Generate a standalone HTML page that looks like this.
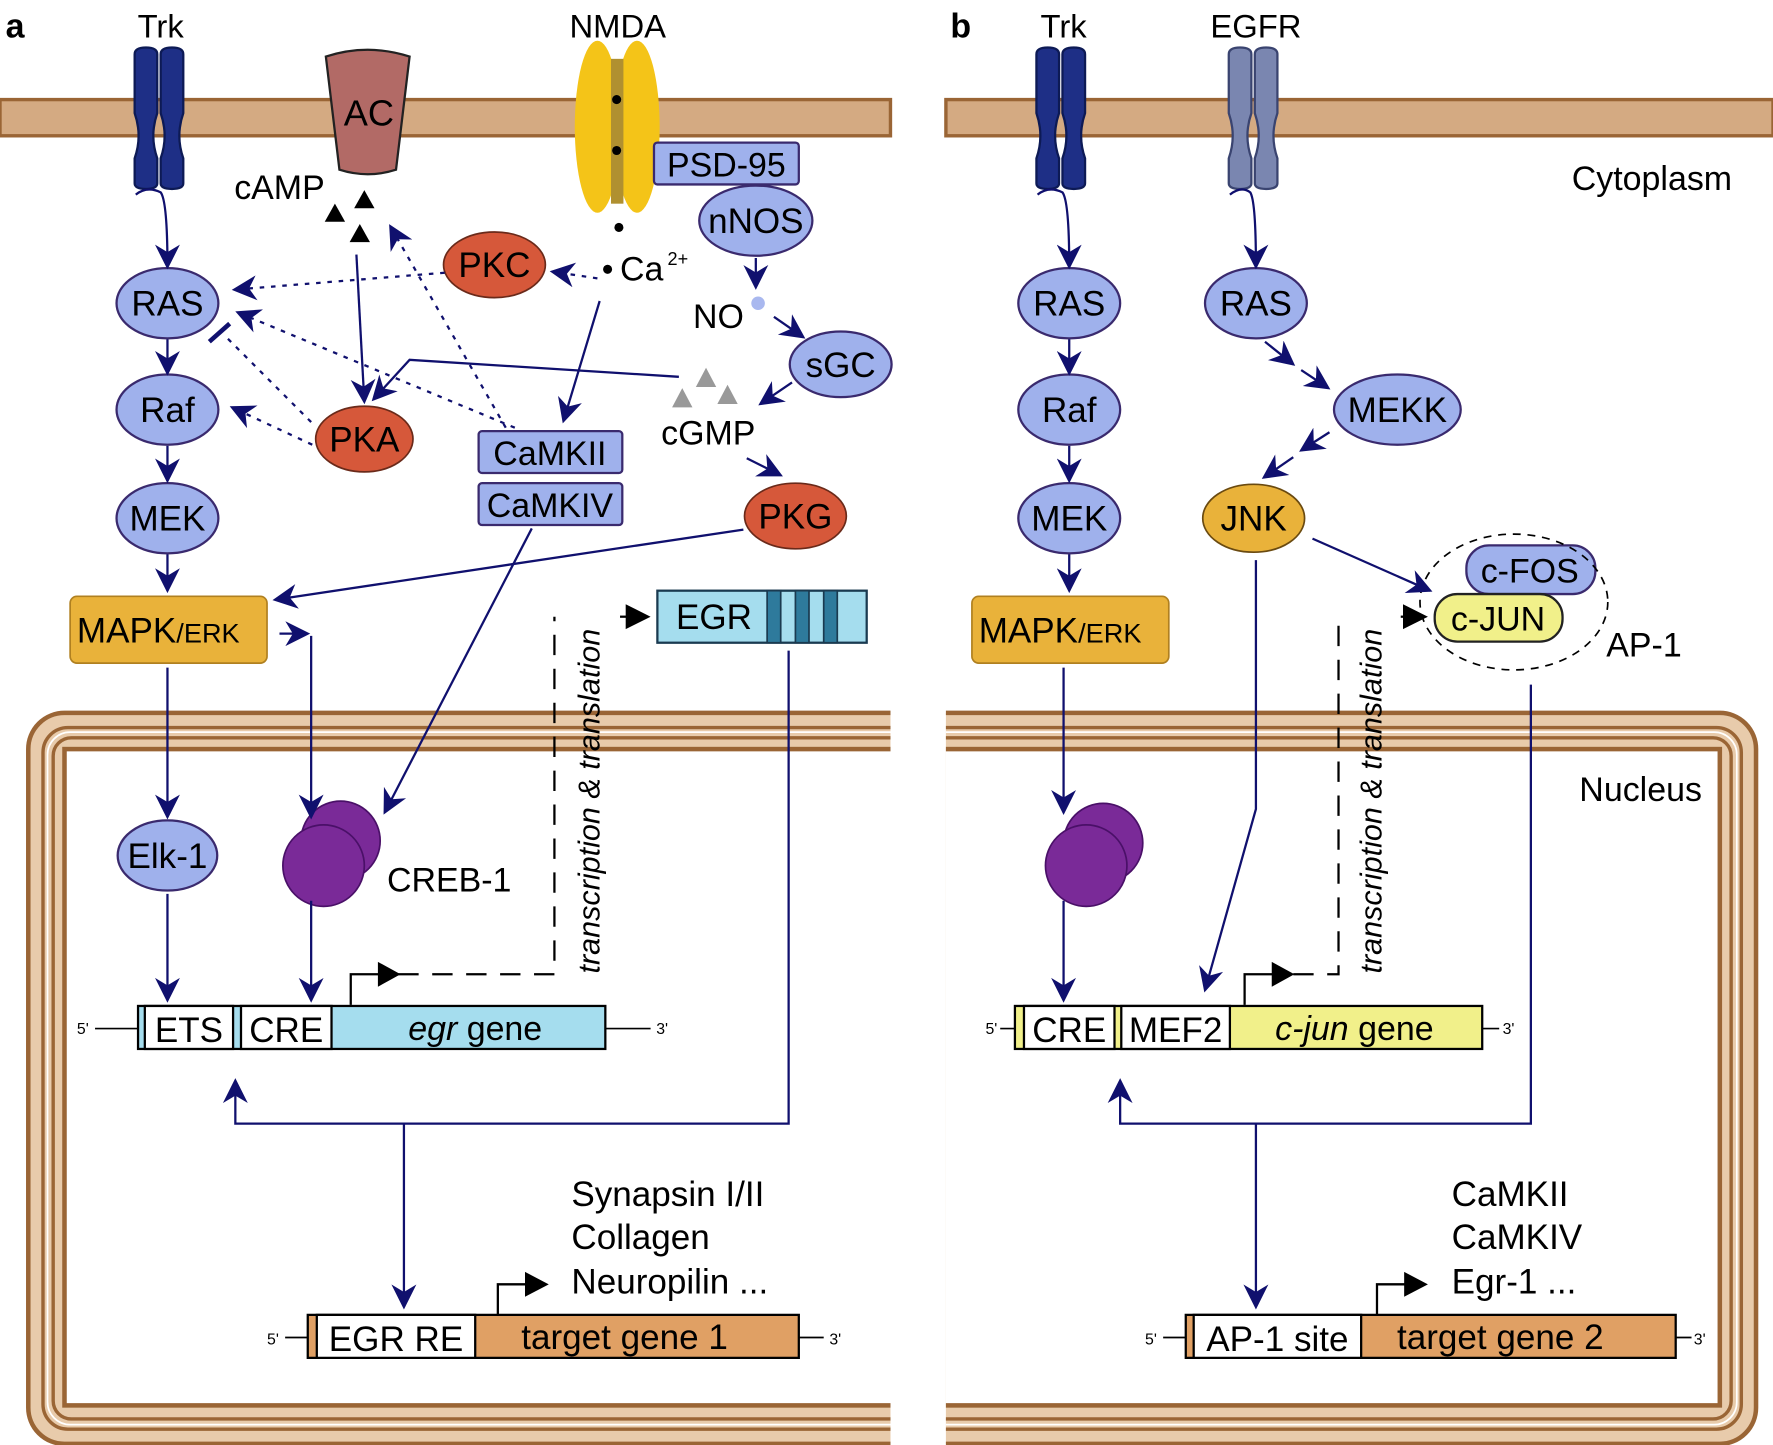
<!DOCTYPE html>
<html><head><meta charset="utf-8"><style>html,body{margin:0;padding:0;background:#fff}svg{display:block}text{font-family:"Liberation Sans",sans-serif}</style></head><body>
<svg width="1773" height="1445" viewBox="0 0 1567 1277" preserveAspectRatio="none" xmlns="http://www.w3.org/2000/svg">
<defs>
<marker id="ab" viewBox="0 0 10 10" refX="9" refY="5" markerWidth="26" markerHeight="22" markerUnits="userSpaceOnUse" orient="auto"><path d="M0,0L10,5L0,10L3,5z" fill="#10106e"/></marker>
<clipPath id="ca"><rect x="0" y="0" width="787" height="1277"/></clipPath>
<clipPath id="cb"><rect x="836" y="0" width="731" height="1277"/></clipPath>
</defs>
<rect x="0" y="88" width="787" height="32" fill="#d4aa82" stroke="#9a6535" stroke-width="3"/>
<rect x="836" y="88" width="731" height="32" fill="#d4aa82" stroke="#9a6535" stroke-width="3"/>
<g clip-path="url(#ca)">
<rect x="25" y="630" width="900" height="646" rx="32" fill="#e8cbab" stroke="#9a6535" stroke-width="4"/>
<rect x="38" y="643" width="880" height="620" rx="22" fill="none" stroke="#9a6535" stroke-width="3"/>
<rect x="42" y="647" width="870" height="612" rx="20" fill="none" stroke="#fff" stroke-width="1.5"/>
<rect x="47" y="652" width="860" height="602" rx="16" fill="none" stroke="#9a6535" stroke-width="3"/>
<rect x="57" y="662" width="850" height="580" fill="#fff" stroke="#9a6535" stroke-width="4"/>
</g>
<g clip-path="url(#cb)">
<rect x="700" y="630" width="852" height="646" rx="32" fill="#e8cbab" stroke="#9a6535" stroke-width="4"/>
<rect x="710" y="643" width="829" height="620" rx="22" fill="none" stroke="#9a6535" stroke-width="3"/>
<rect x="715" y="647" width="820" height="612" rx="20" fill="none" stroke="#fff" stroke-width="1.5"/>
<rect x="720" y="652" width="810" height="602" rx="16" fill="none" stroke="#9a6535" stroke-width="3"/>
<rect x="700" y="662" width="820" height="580" fill="#fff" stroke="#9a6535" stroke-width="4"/>
</g>
<text x="1460" y="168" font-size="30" text-anchor="middle">Cytoplasm</text>
<text x="1450" y="708" font-size="30" text-anchor="middle">Nucleus</text>

<text x="5" y="33" font-size="30" font-weight="bold">a</text>
<text x="142" y="33" font-size="29" text-anchor="middle">Trk</text>
<g fill="#1e2f86" stroke="#0d1a55" stroke-width="2">
<path d="M119,48 Q119,42 129,42 Q139,42 139,48 L139,100 Q132,120 139,140 L139,162 Q139,167 129,167 Q119,167 119,162 L119,140 Q126,120 119,100Z"/>
<path d="M142,48 Q142,42 152,42 Q162,42 162,48 L162,100 Q155,120 162,140 L162,162 Q162,167 152,167 Q142,167 142,162 L142,140 Q149,120 142,100Z"/>
</g>
<path d="M288,50 Q325,38 362,50 L350,150 Q325,158 300,150Z" fill="#b26a66" stroke="#222" stroke-width="2"/>
<text x="326" y="111" font-size="32" text-anchor="middle">AC</text>
<text x="546" y="33" font-size="29" text-anchor="middle">NMDA</text>
<ellipse cx="528" cy="112" rx="20" ry="76" fill="#f4c418"/>
<ellipse cx="563" cy="112" rx="20" ry="76" fill="#f4c418"/>
<rect x="540" y="52" width="11" height="128" fill="#b09030"/>
<circle cx="545" cy="88" r="4"/><circle cx="545" cy="133" r="4"/><circle cx="547" cy="201" r="4"/><circle cx="537" cy="238" r="4"/>
<rect x="578" y="126" width="128" height="37" rx="3" fill="#9fb1ec" stroke="#3a2a6e" stroke-width="2"/>
<text x="642" y="156" font-size="30" text-anchor="middle">PSD-95</text>
<g fill="#9fb1ec" stroke="#3a2a6e" stroke-width="2">
<ellipse cx="668" cy="195" rx="50" ry="31"/>
<ellipse cx="743" cy="322" rx="45" ry="29"/>
<ellipse cx="148" cy="268" rx="45" ry="31"/>
<ellipse cx="148" cy="362" rx="45" ry="31"/>
<ellipse cx="148" cy="458" rx="45" ry="31"/>
<ellipse cx="148" cy="756" rx="44" ry="31"/>
<rect x="423" y="381" width="127" height="37" rx="3"/>
<rect x="423" y="427" width="127" height="37" rx="3"/>
</g>
<text x="668" y="206" font-size="31" text-anchor="middle">nNOS</text>
<text x="743" y="333" font-size="31" text-anchor="middle">sGC</text>
<text x="148" y="279" font-size="31" text-anchor="middle">RAS</text>
<text x="148" y="373" font-size="31" text-anchor="middle">Raf</text>
<text x="148" y="469" font-size="31" text-anchor="middle">MEK</text>
<text x="148" y="767" font-size="31" text-anchor="middle">Elk-1</text>
<text x="486" y="411" font-size="30" text-anchor="middle">CaMKII</text>
<text x="486" y="457" font-size="30" text-anchor="middle">CaMKIV</text>
<text x="635" y="290" font-size="30" text-anchor="middle">NO</text>
<circle cx="670" cy="268" r="6" fill="#a9b8ef"/>
<g fill="#999"><path d="M594,360L603,343L612,360Z"/><path d="M615,342L624,325L633,342Z"/><path d="M634,357L643,340L652,357Z"/></g>
<text x="626" y="393" font-size="30" text-anchor="middle">cGMP</text>
<g fill="#d6583a" stroke="#6a2a1a" stroke-width="1.5">
<ellipse cx="703" cy="456" rx="45" ry="29"/>
<ellipse cx="437" cy="234" rx="45" ry="29"/>
<ellipse cx="322" cy="388" rx="43" ry="29"/>
</g>
<text x="703" y="467" font-size="31" text-anchor="middle">PKG</text>
<text x="437" y="245" font-size="31" text-anchor="middle">PKC</text>
<text x="322" y="399" font-size="31" text-anchor="middle">PKA</text>
<text x="548" y="248" font-size="30">Ca</text><text x="590" y="234" font-size="16">2+</text>
<text x="247" y="176" font-size="30" text-anchor="middle">cAMP</text>
<g fill="#000"><path d="M287,196L296,180L305,196Z"/><path d="M313,184L322,168L331,184Z"/><path d="M309,214L318,198L327,214Z"/></g>
<rect x="62" y="527" width="174" height="59" rx="6" fill="#e9b23a" stroke="#b08020" stroke-width="1.5"/>
<text x="68" y="568" font-size="31">MAPK<tspan font-size="24">/ERK</tspan></text>
<rect x="581" y="522" width="185" height="46" fill="#a5ddee" stroke="#1a3a50" stroke-width="2"/>
<g fill="#2e7a9c" stroke="#1a3a50" stroke-width="1.5"><rect x="678" y="522" width="12" height="46"/><rect x="703" y="522" width="12" height="46"/><rect x="728" y="522" width="12" height="46"/></g>
<text x="631" y="556" font-size="31" text-anchor="middle">EGR</text>
<text transform="translate(530,708) rotate(-90)" font-size="27" font-style="italic" text-anchor="middle">transcription &amp; translation</text>
<path d="M352,861H490V545" fill="none" stroke="#000" stroke-width="2" stroke-dasharray="18,12"/>
<path d="M548,545H560" stroke="#000" stroke-width="2"/><path d="M553,534L575,545L553,556Z"/>
<path d="M310,888V861H340" fill="none" stroke="#000" stroke-width="2"/><path d="M334,850L354,861L334,872Z"/>
<text x="68" y="914" font-size="14">5'</text>
<path d="M84,909H122M535,909H575" stroke="#000" stroke-width="1.5"/>
<text x="580" y="914" font-size="14">3'</text>
<rect x="122" y="889" width="413" height="38" fill="#a5ddee" stroke="#000" stroke-width="2"/>
<rect x="128" y="889" width="78" height="38" fill="#fff" stroke="#000" stroke-width="2"/>
<rect x="213" y="889" width="80" height="38" fill="#fff" stroke="#000" stroke-width="2"/>
<text x="167" y="921" font-size="31" text-anchor="middle">ETS</text>
<text x="253" y="921" font-size="31" text-anchor="middle">CRE</text>
<text x="420" y="919" font-size="30" text-anchor="middle"><tspan font-style="italic">egr</tspan> gene</text>
<g fill="#7a2a98" stroke="#4a1068" stroke-width="1.5"><circle cx="301" cy="743" r="35"/><circle cx="286" cy="765" r="36"/></g>
<text x="397" y="788" font-size="30" text-anchor="middle">CREB-1</text>
<g stroke="#10106e" stroke-width="2" fill="none">
<path d="M120,172 Q130,164 142,170 Q148,178 148,236" marker-end="url(#ab)"/>
<path d="M148,300V330" marker-end="url(#ab)"/>
<path d="M148,394V425" marker-end="url(#ab)"/>
<path d="M148,490V522" marker-end="url(#ab)"/>
<path d="M148,590V722" marker-end="url(#ab)"/>
<path d="M148,790V884" marker-end="url(#ab)"/>
<path d="M247,560H272" marker-end="url(#ab)"/>
<path d="M275,562V722" marker-end="url(#ab)"/>
<path d="M275,796V884" marker-end="url(#ab)"/>
<path d="M315,225L322,355" marker-end="url(#ab)"/>
<path d="M657,468L243,530" marker-end="url(#ab)"/>
<path d="M470,467L340,718" marker-end="url(#ab)"/>
<path d="M530,266L498,372" marker-end="url(#ab)"/>
<path d="M600,333L362,318L330,353" marker-end="url(#ab)"/>
<path d="M668,228V254" marker-end="url(#ab)"/>
<path d="M684,280L710,298" marker-end="url(#ab)"/>
<path d="M700,338L672,357" marker-end="url(#ab)"/>
<path d="M660,405L690,420" marker-end="url(#ab)"/>
<path d="M697,575V993H208V955" marker-end="url(#ab)"/>
<path d="M357,993V1155" marker-end="url(#ab)"/>
<g stroke-dasharray="4,6">
<path d="M393,241L207,256" marker-end="url(#ab)"/>
<path d="M275,373L200,298"/>
<path d="M276,393L205,360" marker-end="url(#ab)"/>
<path d="M455,378L210,276" marker-end="url(#ab)"/>
<path d="M447,378L345,200" marker-end="url(#ab)"/>
<path d="M528,246L488,240" marker-end="url(#ab)"/>
</g>
<path d="M185,302L203,286" stroke-width="4"/>
</g>
<text x="505" y="1066" font-size="31">Synapsin I/II</text>
<text x="505" y="1104" font-size="31">Collagen</text>
<text x="505" y="1143" font-size="31">Neuropilin ...</text>
<path d="M440,1162V1135H468" fill="none" stroke="#000" stroke-width="2"/><path d="M464,1124L485,1135L464,1146Z"/>
<text x="236" y="1188" font-size="14">5'</text>
<path d="M252,1182H272M706,1182H728" stroke="#000" stroke-width="1.5"/>
<text x="733" y="1188" font-size="14">3'</text>
<rect x="272" y="1162" width="434" height="38" fill="#e0a064" stroke="#000" stroke-width="2"/>
<rect x="280" y="1162" width="140" height="38" fill="#fff" stroke="#000" stroke-width="2"/>
<text x="350" y="1194" font-size="31" text-anchor="middle">EGR RE</text>
<text x="552" y="1192" font-size="31" text-anchor="middle">target gene 1</text>

<text x="840" y="33" font-size="30" font-weight="bold">b</text>
<text x="940" y="33" font-size="29" text-anchor="middle">Trk</text>
<g fill="#1e2f86" stroke="#0d1a55" stroke-width="2">
<path d="M916,48 Q916,42 926,42 Q936,42 936,48 L936,100 Q929,120 936,140 L936,162 Q936,167 926,167 Q916,167 916,162 L916,140 Q923,120 916,100Z"/>
<path d="M939,48 Q939,42 949,42 Q959,42 959,48 L959,100 Q952,120 959,140 L959,162 Q959,167 949,167 Q939,167 939,162 L939,140 Q946,120 939,100Z"/>
</g>
<text x="1110" y="33" font-size="29" text-anchor="middle">EGFR</text>
<g fill="#7a86b0" stroke="#3a4470" stroke-width="2">
<path d="M1086,48 Q1086,42 1096,42 Q1106,42 1106,48 L1106,100 Q1099,120 1106,140 L1106,162 Q1106,167 1096,167 Q1086,167 1086,162 L1086,140 Q1093,120 1086,100Z"/>
<path d="M1109,48 Q1109,42 1119,42 Q1129,42 1129,48 L1129,100 Q1122,120 1129,140 L1129,162 Q1129,167 1119,167 Q1109,167 1109,162 L1109,140 Q1116,120 1109,100Z"/>
</g>
<g fill="#9fb1ec" stroke="#3a2a6e" stroke-width="2">
<ellipse cx="945" cy="268" rx="45" ry="31"/>
<ellipse cx="945" cy="362" rx="45" ry="31"/>
<ellipse cx="945" cy="458" rx="45" ry="31"/>
<ellipse cx="1110" cy="268" rx="45" ry="31"/>
<ellipse cx="1235" cy="362" rx="56" ry="31"/>
<rect x="1296" y="482" width="114" height="43" rx="20"/>
</g>
<text x="945" y="279" font-size="31" text-anchor="middle">RAS</text>
<text x="945" y="373" font-size="31" text-anchor="middle">Raf</text>
<text x="945" y="469" font-size="31" text-anchor="middle">MEK</text>
<text x="1110" y="279" font-size="31" text-anchor="middle">RAS</text>
<text x="1235" y="373" font-size="31" text-anchor="middle">MEKK</text>
<text x="1352" y="515" font-size="30" text-anchor="middle">c-FOS</text>
<rect x="1268" y="525" width="113" height="42" rx="20" fill="#f1f08a" stroke="#222" stroke-width="2"/>
<text x="1324" y="557" font-size="30" text-anchor="middle">c-JUN</text>
<ellipse cx="1338" cy="532" rx="83" ry="60" fill="none" stroke="#000" stroke-width="1.5" stroke-dasharray="7,6"/>
<text x="1453" y="580" font-size="30" text-anchor="middle">AP-1</text>
<ellipse cx="1108" cy="458" rx="45" ry="30" fill="#e9b23a" stroke="#6a4a10" stroke-width="1.5"/>
<text x="1108" y="469" font-size="31" text-anchor="middle">JNK</text>
<rect x="859" y="527" width="174" height="59" rx="6" fill="#e9b23a" stroke="#b08020" stroke-width="1.5"/>
<text x="865" y="568" font-size="31">MAPK<tspan font-size="24">/ERK</tspan></text>
<g fill="#7a2a98" stroke="#4a1068" stroke-width="1.5"><circle cx="975" cy="745" r="35"/><circle cx="960" cy="765" r="36"/></g>
<text transform="translate(1221,708) rotate(-90)" font-size="27" font-style="italic" text-anchor="middle">transcription &amp; translation</text>
<path d="M1143,861H1183V545" fill="none" stroke="#000" stroke-width="2" stroke-dasharray="18,12"/>
<path d="M1238,545H1248" stroke="#000" stroke-width="2"/><path d="M1240,534L1262,545L1240,556Z"/>
<path d="M1100,888V861H1130" fill="none" stroke="#000" stroke-width="2"/><path d="M1124,850L1144,861L1124,872Z"/>
<text x="871" y="914" font-size="14">5'</text>
<path d="M884,909H897M1310,909H1325" stroke="#000" stroke-width="1.5"/>
<text x="1328" y="914" font-size="14">3'</text>
<rect x="897" y="889" width="413" height="38" fill="#f1f08a" stroke="#000" stroke-width="2"/>
<rect x="905" y="889" width="80" height="38" fill="#fff" stroke="#000" stroke-width="2"/>
<rect x="991" y="889" width="96" height="38" fill="#fff" stroke="#000" stroke-width="2"/>
<text x="945" y="921" font-size="31" text-anchor="middle">CRE</text>
<text x="1039" y="921" font-size="31" text-anchor="middle">MEF2</text>
<text x="1197" y="919" font-size="30" text-anchor="middle"><tspan font-style="italic">c-jun</tspan> gene</text>
<g stroke="#10106e" stroke-width="2" fill="none">
<path d="M917,172 Q927,164 939,170 Q945,178 945,236" marker-end="url(#ab)"/>
<path d="M1087,172 Q1097,164 1105,170 Q1110,178 1110,236" marker-end="url(#ab)"/>
<path d="M945,300V330" marker-end="url(#ab)"/>
<path d="M945,394V425" marker-end="url(#ab)"/>
<path d="M945,490V522" marker-end="url(#ab)"/>
<path d="M940,590V718" marker-end="url(#ab)"/>
<path d="M940,796V884" marker-end="url(#ab)"/>
<path d="M1118,302L1143,322" marker-end="url(#ab)"/>
<path d="M1150,327L1174,343" marker-end="url(#ab)"/>
<path d="M1175,382L1150,398" marker-end="url(#ab)"/>
<path d="M1143,404L1117,422" marker-end="url(#ab)"/>
<path d="M1160,476L1264,522" marker-end="url(#ab)"/>
<path d="M1110,495V715L1065,875" marker-end="url(#ab)"/>
<path d="M1353,605V993H990V955" marker-end="url(#ab)"/>
<path d="M1110,993V1155" marker-end="url(#ab)"/>
</g>
<text x="1283" y="1066" font-size="31">CaMKII</text>
<text x="1283" y="1104" font-size="31">CaMKIV</text>
<text x="1283" y="1143" font-size="31">Egr-1 ...</text>
<path d="M1217,1162V1135H1245" fill="none" stroke="#000" stroke-width="2"/><path d="M1241,1124L1262,1135L1241,1146Z"/>
<text x="1012" y="1188" font-size="14">5'</text>
<path d="M1028,1182H1048M1481,1182H1495" stroke="#000" stroke-width="1.5"/>
<text x="1497" y="1188" font-size="14">3'</text>
<rect x="1048" y="1162" width="433" height="38" fill="#e0a064" stroke="#000" stroke-width="2"/>
<rect x="1055" y="1162" width="148" height="38" fill="#fff" stroke="#000" stroke-width="2"/>
<text x="1129" y="1194" font-size="31" text-anchor="middle">AP-1 site</text>
<text x="1326" y="1192" font-size="31" text-anchor="middle">target gene 2</text>
</svg>
</body></html>
